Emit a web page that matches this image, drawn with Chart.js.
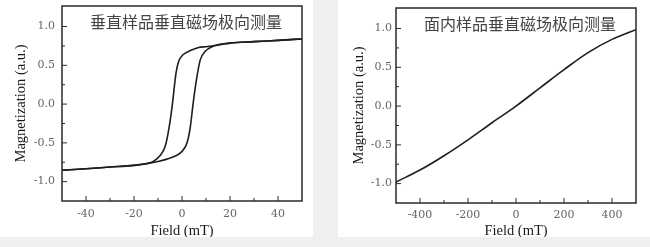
<!DOCTYPE html>
<html>
<head>
<meta charset="utf-8">
<script src="https://cdn.jsdelivr.net/npm/chart.js@4"></script>
<style>
  body { margin: 0; background: #efefef; width: 650px; height: 247px; position: relative; overflow: hidden; }
  .panel { position: absolute; top: 0; background: #fff; }
  #leftPanel { left: 0; width: 313px; height: 237px; }
  #rightPanel { left: 338px; width: 312px; height: 237px; }
</style>
</head>
<body>
<div class="panel" id="leftPanel"><canvas id="leftChart" width="313" height="237"></canvas></div>
<div class="panel" id="rightPanel"><canvas id="rightChart" width="312" height="237"></canvas></div>
<script>
// Data kiri: loop histeresis (medan dalam mT)
const downField = [-50, -40, -30, -20, -14, -11.8, -9.3, -7, -5.3, -4, -2.5, -1.4, 0.4, 3.5, 6.9, 10, 13, 20, 30, 40, 50];
const downMag   = [-0.853, -0.835, -0.812, -0.79, -0.762, -0.737, -0.67, -0.545, -0.287, 0.0, 0.40, 0.55, 0.636, 0.69, 0.73, 0.74, 0.752, 0.786, 0.805, 0.822, 0.84];
const upField = [-50, -40, -30, -20, -14, -10, -6.25, -2.8, 0, 2.1, 3.5, 4.6, 6, 7.6, 9.7, 12.5, 20, 30, 40, 50];
const upMag   = [-0.853, -0.835, -0.812, -0.79, -0.765, -0.74, -0.71, -0.67, -0.61, -0.50, -0.287, 0.0, 0.31, 0.57, 0.68, 0.74, 0.786, 0.805, 0.822, 0.84];

// Data kanan
const inField = [-500, -400, -300, -200, -100, 0, 100, 200, 300, 400, 500];
const inMag   = [-0.98, -0.825, -0.64, -0.435, -0.215, 0.0, 0.235, 0.47, 0.69, 0.86, 0.985];

const leftXTicks = [-40, -20, 0, 20, 40];
const leftXMinor = [-30, -10, 10, 30];
const rightXTicks = [-400, -200, 0, 200, 400];
const rightXMinor = [-300, -100, 100, 300];
const yTicks = [-1.0, -0.5, 0.0, 0.5, 1.0];
const yMinor = [-0.75, -0.25, 0.25, 0.75];

const leftTitle = '垂直样品垂直磁场极向测量';
const rightTitle = '面内样品垂直磁场极向测量';

const serif = "'Liberation Serif', 'DejaVu Serif', serif";
const tickFont = "'DejaVu Serif', serif";

// Bingkai, tick ke dalam, dan judul di dalam plot
const framePlugin = {
    id: 'frame',
    afterDraw(chart, args, opts) {
        const { ctx, chartArea: a, scales: { x, y } } = chart;
        ctx.save();
        ctx.strokeStyle = '#2a2a2a';
        ctx.lineWidth = 1.5;
        ctx.strokeRect(a.left, a.top, a.width, a.height);
        ctx.lineWidth = 1;
        const tick = (x1, y1, x2, y2) => {
            ctx.beginPath();
            ctx.moveTo(x1, y1);
            ctx.lineTo(x2, y2);
            ctx.stroke();
        };
        opts.xMajor.forEach(v => { const p = x.getPixelForValue(v); tick(p, a.bottom, p, a.bottom - 5); });
        opts.xMinor.forEach(v => { const p = x.getPixelForValue(v); tick(p, a.bottom, p, a.bottom - 3); });
        yTicks.forEach(v => { const p = y.getPixelForValue(v); tick(a.left, p, a.left + 5, p); });
        yMinor.forEach(v => { const p = y.getPixelForValue(v); tick(a.left, p, a.left + 3, p); });

        ctx.fillStyle = '#444';
        ctx.font = "16px 'Noto Sans CJK SC'";
        ctx.textAlign = 'center';
        ctx.textBaseline = 'middle';
        ctx.fillText(opts.text, (a.left + a.right) / 2 + 4, a.top + 16);
        ctx.restore();
    }
};

function makeChart(id, sets, cfg) {
    const ctx = document.getElementById(id).getContext('2d');
    return new Chart(ctx, {
        type: 'scatter',
        data: {
            datasets: sets.map(s => ({
                data: s.xs.map((v, i) => ({ x: v, y: s.ys[i] })),
                showLine: true,
                borderColor: '#1e1e1e',
                borderWidth: 1.6,
                pointRadius: 0,
                cubicInterpolationMode: 'monotone'
            }))
        },
        options: {
            responsive: false,
            animation: false,
            devicePixelRatio: 1,
            layout: { padding: cfg.padding },
            plugins: {
                legend: { display: false },
                tooltip: { enabled: false },
                frame: { text: cfg.text, xMajor: cfg.xTicks, xMinor: cfg.xMinor }
            },
            scales: {
                x: {
                    type: 'linear',
                    min: cfg.xMin,
                    max: cfg.xMax,
                    afterBuildTicks: s => { s.ticks = cfg.xTicks.map(v => ({ value: v })); },
                    afterFit: s => { s.height = cfg.xHeight; s.paddingLeft = 0; s.paddingRight = 0; },
                    grid: { display: false, drawTicks: false },
                    border: { display: false },
                    ticks: { color: '#666', padding: cfg.xPad, font: { family: tickFont, size: 11 } },
                    title: {
                        display: true,
                        text: 'Field (mT)',
                        color: '#1a1a1a',
                        font: { family: serif, size: 14.5 },
                        padding: { top: 0, bottom: -3 }
                    }
                },
                y: {
                    min: -1.25,
                    max: 1.265,
                    afterBuildTicks: s => { s.ticks = yTicks.map(v => ({ value: v })); },
                    afterFit: s => { s.width = cfg.yWidth; s.paddingTop = 0; s.paddingBottom = 0; },
                    grid: { display: false, drawTicks: false },
                    border: { display: false },
                    ticks: {
                        color: '#666',
                        padding: cfg.yPad,
                        font: { family: tickFont, size: 11 },
                        callback: v => v.toFixed(1)
                    },
                    title: {
                        display: true,
                        text: 'Magnetization (a.u.)',
                        color: '#1a1a1a',
                        font: { family: serif, size: 14.5 },
                        padding: { top: 12, bottom: 0 }
                    }
                }
            }
        },
        plugins: [framePlugin]
    });
}

document.addEventListener('DOMContentLoaded', () => {
    makeChart('leftChart', [
        { xs: downField, ys: downMag },
        { xs: upField, ys: upMag }
    ], {
        text: leftTitle, xMin: -50, xMax: 50, xTicks: leftXTicks, xMinor: leftXMinor,
        padding: { left: 0, right: 11, top: 6, bottom: 0 },
        xHeight: 36, yWidth: 62, xPad: 7, yPad: 7
    });
    makeChart('rightChart', [
        { xs: inField, ys: inMag }
    ], {
        text: rightTitle, xMin: -500, xMax: 500, xTicks: rightXTicks, xMinor: rightXMinor,
        padding: { left: 0, right: 14, top: 8, bottom: 0 },
        xHeight: 34, yWidth: 58, xPad: 6, yPad: 4
    });
});
</script>
</body>
</html>
